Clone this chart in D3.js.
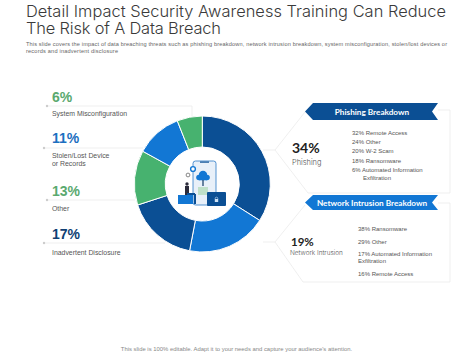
<!DOCTYPE html>
<html>
<head>
<meta charset="utf-8">
<script src="https://d3js.org/d3.v7.min.js"></script>
<style>
  html, body { margin: 0; padding: 0; background: #fff; }
  svg { display: block; }
  text { font-family: "Liberation Sans", Arial, sans-serif; fill: #555; }
  .round { font-family: Lato, "Open Sans", sans-serif; }
  .wide { font-family: Inter, "Open Sans", sans-serif; }
</style>
</head>
<body>
<div id="chart"></div>
<script>
// values, clockwise from the top of the donut
const categories = ["Phishing", "Network Intrusion", "Inadvertent Disclosure", "Other", "Stolen/Lost Device or Records", "System Misconfiguration"];
const shares = [34, 19, 17, 13, 11, 6];
const sliceColors = ["#0b4f94", "#1277d4", "#0b4f94", "#47b26f", "#1277d4", "#47b26f"];

const phishingShares = [32, 24, 20, 18, 6];
const phishingLabels = ["Remote Access", "Other", "W-2 Scam", "Ransomware", "Automated Information"];
const networkShares = [38, 29, 17, 16];
const networkLabels = ["Ransomware", "Other", "Automated Information", "Remote Access"];

const svg = d3.select("#chart").append("svg")
  .attr("width", 474)
  .attr("height", 355);

// title block, one text element so the tight leading stays together
const titleLines = ["Detail Impact Security Awareness Training Can Reduce", "The Risk of A Data Breach"];
const titleWidths = [420, 195];
svg.append("text")
    .attr("class", "title wide")
    .style("font-size", "16.4px")
    .style("font-weight", 300)
    .style("fill", "#3a3a3a")
  .selectAll("tspan")
  .data(titleLines)
  .join("tspan")
    .attr("x", 26)
    .attr("y", (d, i) => 17 + i * 16.7)
    .attr("textLength", (d, i) => titleWidths[i])
    .text(d => d);

const subLines = ["This slide covers the impact of data breaching threats such as phishing breakdown, network intrusion breakdown, system misconfiguration, stolen/lost devices or", "records and inadvertent disclosure"];
svg.selectAll("text.sub")
  .data(subLines)
  .join("text")
    .attr("class", "sub")
    .attr("x", 26)
    .attr("y", (d, i) => 46 + i * 6.6)
    .style("font-size", "5.6px")
    .style("fill", "#666")
    .text(d => d);
svg.select("text.sub").attr("textLength", 421);
svg.selectAll("text.sub").filter((d, i) => i === 1).attr("textLength", 92);

// thin connector lines behind everything
const guide = "#ebebeb";
const connectors = [
  "M47,106H192V116",
  "M44,148H143",
  "M47,200H135",
  "M44,243H165",
  "M263,150H275L305,112M275,150L308,193H450V110H438",
  "M263,242H275L305,205M275,242L303,282H450V203H438"
];
svg.append("g").selectAll("path")
  .data(connectors)
  .join("path")
    .attr("d", d => d)
    .attr("fill", "none")
    .attr("stroke", guide)
    .attr("stroke-width", 0.8);

// left end dots
svg.append("g").selectAll("circle")
  .data([[47, 106], [44, 148], [47, 200], [44, 243]])
  .join("circle")
    .attr("cx", d => d[0])
    .attr("cy", d => d[1])
    .attr("r", 1.2)
    .attr("fill", "#ccc");

// donut
const cx = 202.3, cy = 184;
const pie = d3.pie().sort(null).value(d => d);
const arc = d3.arc().innerRadius(37).outerRadius(68);
const donut = svg.append("g").attr("transform", `translate(${cx},${cy})`);
donut.selectAll("path")
  .data(pie(shares))
  .join("path")
    .attr("d", arc)
    .attr("fill", (d, i) => sliceColors[i])
    .attr("stroke", "#fff")
    .attr("stroke-width", 1);

// left labels
const leftItems = [
  { i: 5, x: 52, y: 102, color: "#5aa96f", lines: ["System Misconfiguration"], ly: 116 },
  { i: 4, x: 52, y: 143, color: "#1c6fc0", lines: ["Stolen/Lost Device", "or Records"], ly: 158 },
  { i: 3, x: 52, y: 196, color: "#5aa96f", lines: ["Other"], ly: 211 },
  { i: 2, x: 52, y: 239, color: "#0f3f73", lines: ["Inadvertent Disclosure"], ly: 255 }
];
leftItems.forEach(d => {
  svg.append("text")
    .attr("x", d.x).attr("y", d.y)
    .style("font-size", "14px").style("font-weight", 700)
    .style("fill", d.color)
    .text(shares[d.i] + "%");
  d.lines.forEach((t, k) => {
    svg.append("text")
      .attr("x", d.x).attr("y", d.ly + k * 8)
      .style("font-size", "6.9px")
      .text(t);
  });
});

// banners, arrow on the left and a notch on the right
function banner(y, h, color, label) {
  const x0 = 305, x1 = 438;
  svg.append("path")
    .attr("d", `M${x0},${y + h / 2}L${x0 + 8},${y}H${x1}L${x1 - 6},${y + h / 2}L${x1},${y + h}H${x0 + 8}Z`)
    .attr("fill", color);
  svg.append("text")
    .attr("class", "round")
    .attr("x", 372).attr("y", y + h / 2 + 3)
    .attr("text-anchor", "middle")
    .style("font-size", "8.2px").style("font-weight", 700)
    .style("fill", "#fff")
    .text(label);
}
banner(103, 17, "#0b4f94", "Phishing Breakdown");
banner(195, 15, "#1277d4", "Network Intrusion Breakdown");

// right headline numbers
svg.append("text").attr("class", "round").attr("x", 292).attr("y", 153)
  .style("font-size", "14px").style("font-weight", 700).style("fill", "#222")
  .text(shares[0] + "%");
svg.append("text").attr("class", "wide").attr("x", 292).attr("y", 165)
  .style("font-size", "7.4px").style("font-weight", 300).style("fill", "#555")
  .text(categories[0]);
svg.append("text").attr("class", "round").attr("x", 291).attr("y", 246)
  .style("font-size", "11.5px").style("font-weight", 700).style("fill", "#222")
  .text(shares[1] + "%");
svg.append("text").attr("class", "wide").attr("x", 290).attr("y", 255)
  .style("font-size", "6.4px").style("font-weight", 300).style("fill", "#555")
  .text(categories[1]);

// breakdown lists
const listPhishingY = [135, 144, 153, 163, 172];
svg.append("g").selectAll("text")
  .data(phishingShares)
  .join("text")
    .attr("x", 352)
    .attr("y", (d, i) => listPhishingY[i])
    .style("font-size", "6px")
    .text((d, i) => `${d}%  ${phishingLabels[i]}`);
svg.append("text").attr("x", 363).attr("y", 180).style("font-size", "6px").text("Exfiltration");

const listNetworkY = [231, 244, 256, 276];
svg.append("g").selectAll("text")
  .data(networkShares)
  .join("text")
    .attr("x", 358)
    .attr("y", (d, i) => listNetworkY[i])
    .style("font-size", "6px")
    .text((d, i) => `${d}%  ${networkLabels[i]}`);
svg.append("text").attr("x", 358).attr("y", 263).style("font-size", "6px").text("Exfiltration");

// centre illustration
const icon = svg.append("g");
icon.append("rect").attr("x", 193).attr("y", 161).attr("width", 23).attr("height", 44).attr("rx", 2.5)
  .attr("fill", "#e8f0f9").attr("stroke", "#2b78c5").attr("stroke-width", 0.8);
icon.append("rect").attr("x", 200).attr("y", 161.5).attr("width", 9).attr("height", 1.2).attr("fill", "#0b4f94");
// cloud
icon.append("circle").attr("cx", 203).attr("cy", 175).attr("r", 4.2).attr("fill", "#1277d4");
icon.append("circle").attr("cx", 199).attr("cy", 177.5).attr("r", 2.8).attr("fill", "#1277d4");
icon.append("circle").attr("cx", 207).attr("cy", 177.5).attr("r", 2.8).attr("fill", "#1277d4");
icon.append("rect").attr("x", 199).attr("y", 177).attr("width", 8).attr("height", 3.3).attr("fill", "#1277d4");
icon.append("rect").attr("x", 202.4).attr("y", 180).attr("width", 1.2).attr("height", 6).attr("fill", "#123a66");
icon.append("rect").attr("x", 198).attr("y", 187).attr("width", 10).attr("height", 8).attr("fill", "#bfe0c9");
// gears
icon.append("circle").attr("cx", 193).attr("cy", 169).attr("r", 2.4).attr("fill", "#fff").attr("stroke", "#1277d4").attr("stroke-width", 1.4);
icon.append("circle").attr("cx", 188).attr("cy", 175).attr("r", 1.9).attr("fill", "#fff").attr("stroke", "#555").attr("stroke-width", 0.7);
// seated person and box
icon.append("rect").attr("x", 178).attr("y", 195).attr("width", 15).attr("height", 9).attr("fill", "#1277d4");
icon.append("circle").attr("cx", 187).attr("cy", 184).attr("r", 1.7).attr("fill", "#2a2a3a");
icon.append("rect").attr("x", 185).attr("y", 186).attr("width", 4).attr("height", 9).attr("fill", "#2a2a3a");
icon.append("rect").attr("x", 187).attr("y", 193).attr("width", 8).attr("height", 2).attr("fill", "#0b4f94");
icon.append("rect").attr("x", 194).attr("y", 194).attr("width", 2).attr("height", 10).attr("fill", "#0b4f94");
// lock panel
icon.append("rect").attr("x", 207).attr("y", 192).attr("width", 19).attr("height", 14).attr("rx", 1).attr("fill", "#0b4f94");
icon.append("rect").attr("x", 214.8).attr("y", 199).attr("width", 3.4).attr("height", 3).attr("fill", "#cfe3f6");
icon.append("circle").attr("cx", 216.5).attr("cy", 198.5).attr("r", 1.3).attr("fill", "none").attr("stroke", "#cfe3f6").attr("stroke-width", 0.6);

// footer
svg.append("text")
  .attr("x", 236.5).attr("y", 351)
  .attr("text-anchor", "middle")
  .style("font-size", "5.9px")
  .style("fill", "#888")
  .text("This slide is 100% editable. Adapt it to your needs and capture your audience's attention.");
</script>
</body>
</html>
